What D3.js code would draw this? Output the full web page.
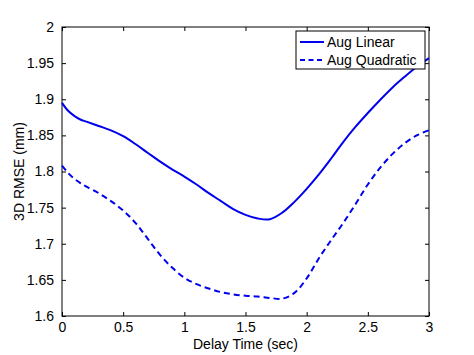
<!DOCTYPE html>
<html><head><meta charset="utf-8">
<script src="https://cdn.jsdelivr.net/npm/d3@7"></script>
<style>
html,body{margin:0;padding:0;background:#fff;}
text{font-family:"Liberation Sans",Arial,Helvetica,sans-serif;}
</style></head>
<body>
<svg id="c" width="474" height="355"></svg>
<script>
const delay = [0,0.05,0.1,0.15,0.2,0.3,0.4,0.5,0.6,0.7,0.8,0.9,1.0,1.1,1.2,1.3,1.4,1.5,1.6,1.7,1.8,1.9,2.0,2.1,2.2,2.3,2.4,2.5,2.6,2.7,2.8,2.9,3.0];
const augLinear = [1.895,1.884,1.877,1.872,1.869,1.863,1.857,1.849,1.838,1.826,1.814,1.803,1.793,1.782,1.770,1.759,1.748,1.740,1.735,1.734,1.743,1.758,1.776,1.796,1.818,1.841,1.862,1.881,1.899,1.916,1.931,1.945,1.957];
const augQuadratic = [1.808,1.798,1.790,1.784,1.779,1.770,1.759,1.746,1.729,1.707,1.685,1.667,1.653,1.644,1.638,1.633,1.630,1.628,1.627,1.625,1.624,1.632,1.652,1.680,1.705,1.729,1.755,1.782,1.805,1.824,1.839,1.850,1.857];
const xTicks = [0,0.5,1,1.5,2,2.5,3];
const yTicks = [1.6,1.65,1.7,1.75,1.8,1.85,1.9,1.95,2];
const seriesNames = ["Aug Linear","Aug Quadratic"];

const svg = d3.select("#c");
const L = 62, R = 429, T = 27, B = 316;
const x = d3.scaleLinear().domain([0,3]).range([L,R]);
const y = d3.scaleLinear().domain([1.6,2]).range([B,T]);
const fmt = d => String(+d.toFixed(2));

const g = svg.append("g");
const ax = (axis, tr) => {
  const a = g.append("g").attr("transform", tr).call(axis);
  a.select(".domain").remove();
  a.selectAll("line").attr("stroke","#000").attr("stroke-width",1);
  a.selectAll("text").attr("font-size","14px").attr("fill","#000");
  return a;
};
ax(d3.axisBottom(x).tickValues(xTicks).tickSize(-4).tickPadding(6).tickFormat(fmt), `translate(0,${B})`);
ax(d3.axisTop(x).tickValues(xTicks).tickSize(-4).tickFormat(""), `translate(0,${T})`);
ax(d3.axisLeft(y).tickValues(yTicks).tickSize(-4).tickPadding(8).tickFormat(fmt), `translate(${L},0)`);
ax(d3.axisRight(y).tickValues(yTicks).tickSize(-4).tickFormat(""), `translate(${R},0)`);

g.append("rect").attr("x",L).attr("y",T).attr("width",R-L).attr("height",B-T)
  .attr("fill","none").attr("stroke","#000").attr("stroke-width",1);

const line = d3.line().x((d,i)=>x(delay[i])).y(d=>y(d)).curve(d3.curveCatmullRom.alpha(0.5));
g.append("path").datum(augLinear).attr("d",line).attr("fill","none")
  .attr("stroke","#0000ee").attr("stroke-width",2);
g.append("path").datum(augQuadratic).attr("d",line).attr("fill","none")
  .attr("stroke","#0000ee").attr("stroke-width",2).attr("stroke-dasharray","6,4");

svg.append("text").attr("x",(L+R)/2).attr("y",349).attr("text-anchor","middle")
  .attr("font-size","14px").text("Delay Time (sec)");
svg.append("text").attr("transform",`translate(24,${(T+B)/2}) rotate(-90)`)
  .attr("text-anchor","middle").attr("font-size","14px").text("3D RMSE (mm)");

const lg = svg.append("g");
lg.append("rect").attr("x",296).attr("y",31).attr("width",129).attr("height",38)
  .attr("fill","#fff").attr("stroke","#000").attr("stroke-width",1);
const ly = [42,60];
seriesNames.forEach((n,i)=>{
  lg.append("line").attr("x1",300).attr("x2",324).attr("y1",ly[i]).attr("y2",ly[i])
    .attr("stroke","#0000ee").attr("stroke-width",2)
    .attr("stroke-dasharray", i===1 ? "5,3.5" : null);
  lg.append("text").attr("x",327).attr("y",ly[i]+5).attr("font-size","14px").text(n);
});
</script>
</body></html>
